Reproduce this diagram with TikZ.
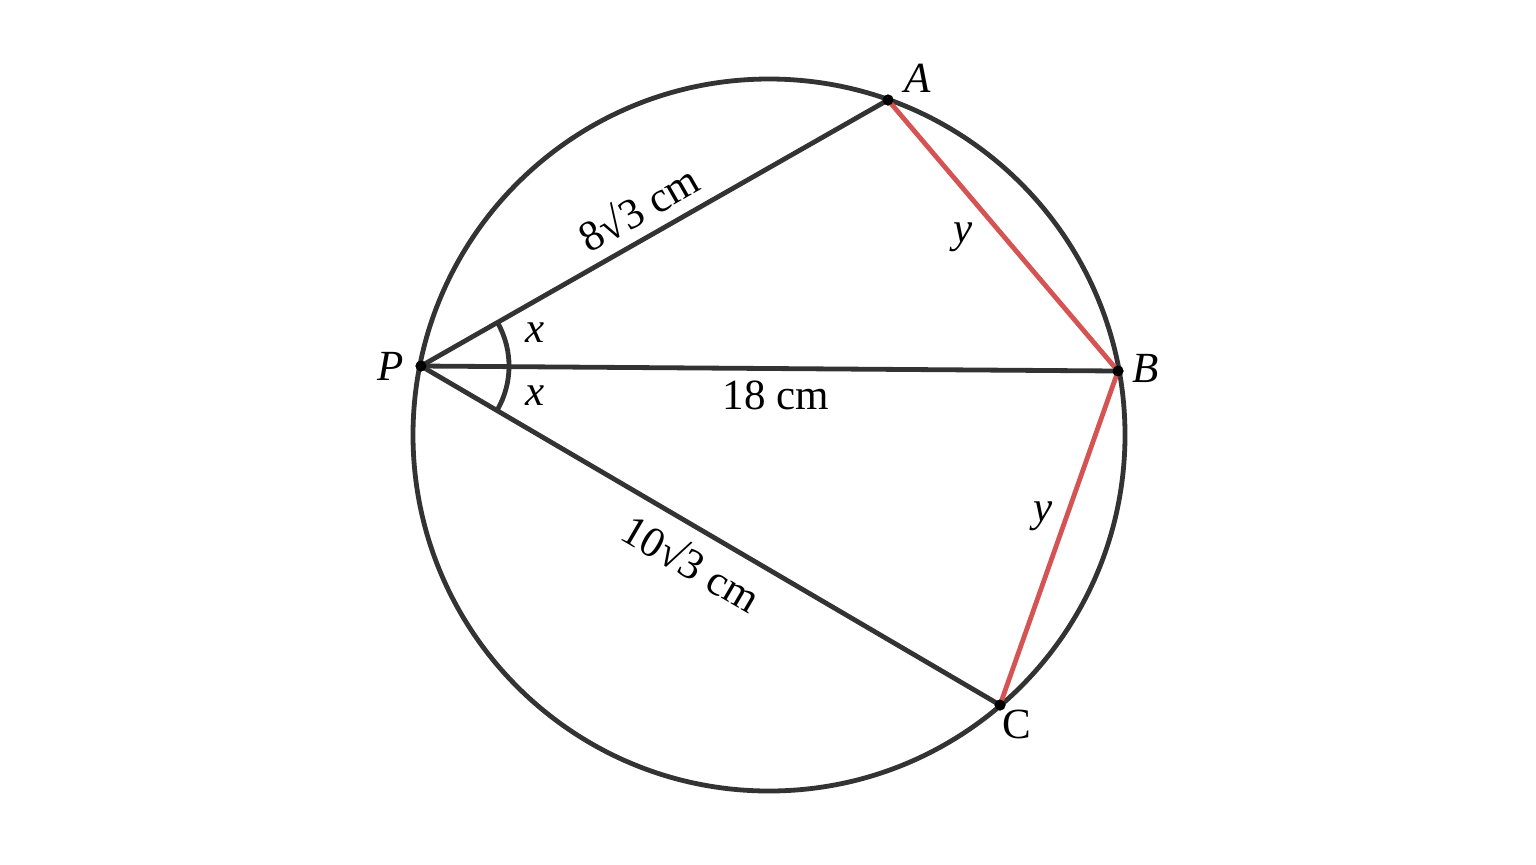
\documentclass[tikz,border=0pt]{standalone}
\usepackage{fontspec}
\setmainfont{Liberation Serif}
\usetikzlibrary{calc}
\begin{document}
\begin{tikzpicture}[x=0.5pt,y=-0.5pt,
  geo/.style={draw=dark,line width=2.4pt},
  chord/.style={draw=redc,line width=2.4pt},
  lbl/.style={font=\fontsize{21.5}{24}\selectfont,inner sep=0pt},
  dot/.style={circle,fill=black,inner sep=0pt,minimum size=5.5pt}]
\definecolor{dark}{HTML}{333333}
\definecolor{redc}{HTML}{D65353}
\useasboundingbox[fill=white] (0,0) rectangle (1536,864);
\coordinate (O) at (769,435);
\node[dot] (P) at (421,366) {};
\node[dot] (A) at (888,100) {};
\node[dot] (B) at (1118,371) {};
\node[dot] (C) at (1000,705) {};
\draw[geo] (O) circle[radius=178pt];
\draw[geo] (P.center) -- (A.center);
\draw[geo] (P.center) -- (B.center);
\draw[geo] (P.center) -- (C.center);
\draw[chord] (A.center) -- (B.center) -- (C.center);
\draw[geo] ($(P.center)!44pt!(A.center)$) arc[start angle=29.7,end angle=-30.3,radius=44pt];
\node[dot] at (P) {};
\node[dot] at (A) {};
\node[dot] at (B) {};
\node[dot] at (C) {};
\node[lbl] (lP) at (391,366) {\textit{P}};
\node[lbl] (lA) at (918,78) {\textit{A}};
\node[lbl] (lB) at (1146,368) {\textit{B}};
\node[lbl] (lC) at (1017,724) {C};
\node[lbl] (lx1) at (535,333) {\textit{x}};
\node[lbl] (lx2) at (535,396) {\textit{x}};
\node[lbl] (ly1) at (963,237) {\textit{y}};
\node[lbl] (ly2) at (1043,516) {\textit{y}};
\node[lbl] (l18) at (776,395) {18 cm};
\node[lbl,rotate=29.7] (lPA) at (638,207) {8√3 cm};
\node[lbl,rotate=-30.3] (lPC) at (692,562) {10√3 cm};
\end{tikzpicture}
\end{document}
